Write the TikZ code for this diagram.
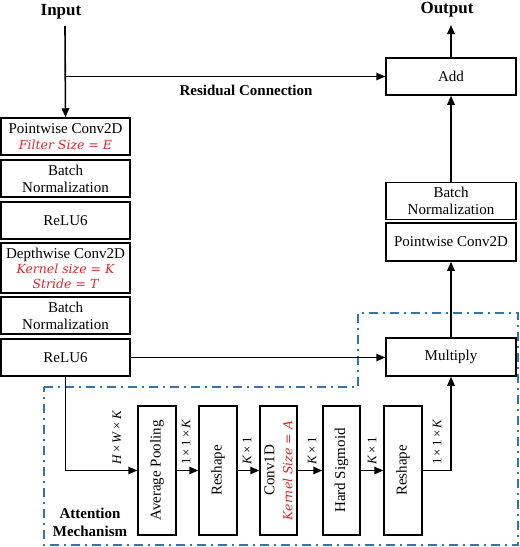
\documentclass[tikz,border=0pt]{standalone}
\usepackage{fontspec}
\setmainfont{Liberation Serif}
\newfontfamily\redfont{DejaVu Serif}
\usetikzlibrary{arrows.meta}
\definecolor{attblue}{RGB}{46,117,182}
\definecolor{redtxt}{RGB}{220,40,40}
\newcommand{\rt}[1]{{\color{redtxt}\redfont\itshape\fontsize{12.5}{15}\selectfont #1}}
\newcommand{\dimtxt}[3]{#1\,×\,#2\,×\,#3}
\begin{document}
\begin{tikzpicture}[x=1pt,y=-1pt,
 blk/.style={draw, line width=1.5pt, inner sep=0pt, align=center, font=\fontsize{15}{17}\selectfont, minimum width=129pt},
 vblk/.style={blk, rotate=90, minimum width=129pt, minimum height=38pt},
 arr/.style={line width=1.6pt, -{Triangle[length=9pt,width=7.5pt]}},
 dimlbl/.style={rotate=90, anchor=west, inner sep=1pt, font=\fontsize{13}{15}\selectfont},
 ttl/.style={font=\fontsize{17}{19}\selectfont\bfseries, inner sep=0pt, anchor=base},
 note/.style={font=\fontsize{15}{18}\selectfont\bfseries, align=center, inner sep=0pt},
]
\useasboundingbox (0,0) rectangle (520,547);

% attention region
\draw[attblue, line width=2pt, dash pattern=on 9pt off 5pt on 2pt off 5pt]
  (44,387) -- (358,387) -- (358,313) -- (518,313) -- (518,545) -- (44,545) -- cycle;

% titles
\node[ttl] (input) at (61,15) {Input};
\node[ttl] (output) at (447,13) {Output};
\coordinate (istart) at (65,26);
\coordinate (oend) at (451,25);

% left column
\node[blk, minimum height=37pt] (pw1) at (65.5,136.5) {Pointwise Conv2D\\[-1pt]\rt{Filter Size = E}};
\node[blk, minimum height=37pt] (bn1) at (65.5,178.5) {Batch\\Normalization};
\node[blk, minimum height=37pt] (relu1) at (65.5,220.5) {ReLU6};
\node[blk, minimum height=50pt, font=\fontsize{15}{15}\selectfont] (dw) at (65.5,268) {Depthwise Conv2D\\\rt{Kernel size = K}\\\rt{Stride = T}};
\node[blk, minimum height=37pt] (bn2) at (65.5,315.5) {Batch\\Normalization};
\node[blk, minimum height=37pt] (relu2) at (65.5,357.5) {ReLU6};

% right column
\node[blk, minimum width=130pt, minimum height=37pt] (add) at (451,76.5) {Add};
\node[blk, minimum width=130pt, minimum height=37pt] (bn3) at (451,201) {Batch\\Normalization};
\node[blk, minimum width=130pt, minimum height=38pt] (pw2) at (451,242) {Pointwise Conv2D};
\node[blk, minimum width=130pt, minimum height=38pt] (mult) at (451,357) {Multiply};

% attention blocks (rotated: north = left side, south = right side)
\node[vblk] (ap) at (157,470.5) {Average Pooling};
\node[vblk] (rs1) at (218,470.5) {Reshape};
\node[vblk, minimum height=37pt, font=\fontsize{15}{18}\selectfont] (conv) at (278.5,470.5) {Conv1D\\\rt{Kernel Size = A}};
\node[vblk, minimum height=37pt] (hs) at (341.5,470.5) {Hard Sigmoid};
\node[vblk] (rs2) at (403,470.5) {Reshape};

\node[note] (attn) at (90,522) {Attention\\Mechanism};
\node[note] (res) at (246,90) {Residual Connection};

% connectors
\coordinate (rj) at (istart |- add.west);
\coordinate (ilow) at (relu2.south |- ap.north);
\coordinate (rlow) at (mult.south |- rs2.south);
\draw[arr] (istart) -- (pw1.north);
\draw[arr] (rj) -- (add.west);
\draw[arr] (add.north) -- (oend);
\draw[arr] (bn3.north) -- (add.south);
\draw[arr] (mult.north) -- (pw2.south);
\draw[arr] (relu2.east) -- (relu2.east -| mult.west);
\draw[arr] (relu2.south) -- (ilow) -- (ap.north);
\draw[arr] (ap.south) -- (rs1.north);
\draw[arr] (rs1.south) -- (conv.north);
\draw[arr] (conv.south) -- (hs.north);
\draw[arr] (hs.south) -- (rs2.north);
\draw[arr] (rs2.south) -- (rlow) -- (mult.south);

% dimension labels
\node[dimlbl] (d1) at (117,466) {\dimtxt{\textit{H}}{\textit{W}}{\textit{K}}};
\node[dimlbl] (d2) at (186,466) {\dimtxt{1}{1}{\textit{K}}};
\node[dimlbl] (d3) at (247,466) {\textit{K}\,×\,1};
\node[dimlbl] (d4) at (312,466) {\textit{K}\,×\,1};
\node[dimlbl] (d5) at (372,466) {\textit{K}\,×\,1};
\node[dimlbl] (d6) at (437,466) {\dimtxt{1}{1}{\textit{K}}};
\end{tikzpicture}
\end{document}
